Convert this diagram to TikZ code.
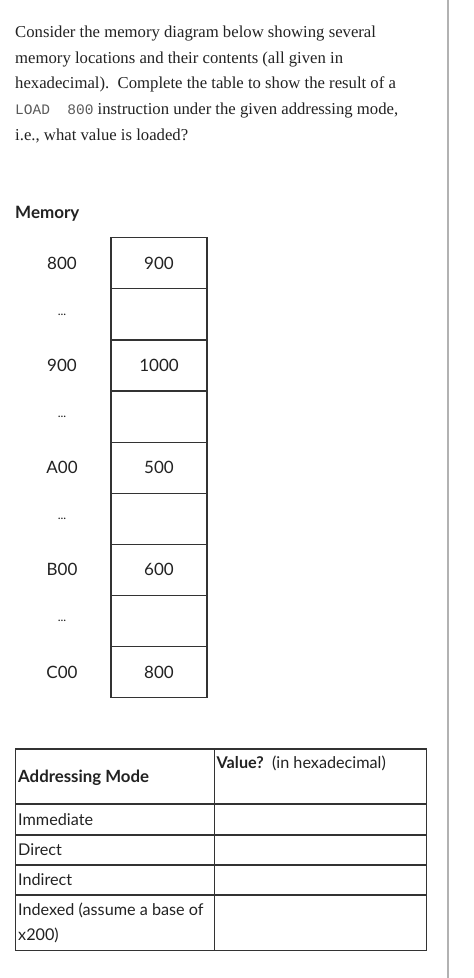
\documentclass[tikz,border=0pt]{standalone}
\usepackage{fontspec}
\setmainfont{Liberation Serif}
\setsansfont{Lato}
\setmonofont{Liberation Mono}
\definecolor{ink}{HTML}{222222}
\definecolor{rule}{HTML}{333333}
\tikzset{
	cell/.style={draw=rule,line width=1.2pt,minimum width=96pt,minimum height=51.1pt,inner sep=0pt,
		font=\sffamily\fontsize{17}{20}\selectfont,text=ink},
	addr/.style={inner sep=0pt,font=\sffamily\fontsize{17}{20}\selectfont,text=ink},
	line/.style={anchor=base west,inner sep=0pt,font=\fontsize{16.7}{20}\selectfont,text=ink},
	entry/.style={anchor=base west,inner sep=0pt,font=\sffamily\fontsize{16.2}{20}\selectfont,text=ink}
}
\begin{document}
\begin{tikzpicture}[x=1pt,y=-1pt]
	\useasboundingbox (0,0) rectangle (474,978);
	\draw[black!30,line width=1.5pt] (448,0)--(448,978);
	% question
	\node[line] (l1) at (15,37.5) {Consider the memory diagram below showing several};
	\node[line] (l2) at (15,63) {memory locations and their contents (all given in};
	\node[line] (l3) at (15,88.5) {hexadecimal).\ \ Complete the table to show the result of a};
	\node[line] (l4) at (15,114.3) {{\ttfamily\fontsize{14.5}{20}\selectfont\color{black!65}LOAD\ \ 800} instruction under the given addressing mode,};
	\node[line] (l5) at (15,140) {i.e., what value is loaded?};
	% memory
	\node[entry,font=\sffamily\bfseries\fontsize{17}{20}\selectfont] (mem) at (15,218.3) {Memory};
	\foreach \i/\a/\v in {0/800/900,1/{\fontsize{12}{12}\selectfont...}/,2/900/1000,3/{\fontsize{12}{12}\selectfont...}/,4/A00/500,5/{\fontsize{12}{12}\selectfont...}/,6/B00/600,7/{\fontsize{12}{12}\selectfont...}/,8/C00/800}{
		\node[cell] (m\i) at (159,263.25+51.1*\i) {\v};
		\node[addr] (a\i) at (62,263.25+51.1*\i) {\a};
	}
	% table
	\path (15.7,749) coordinate (T1) (214.3,749) coordinate (T2) (426.7,749) coordinate (T3)
		(15.7,950.7) coordinate (B1) (214.3,950.7) coordinate (B2) (426.7,950.7) coordinate (B3);
	\draw[rule,line width=1.2pt] (T1) rectangle (B3) (T2)--(B2);
	\foreach \y in {804,835,865,895} \draw[rule,line width=1.2pt] (15.7,\y)--(426.7,\y);
	\node[entry,font=\sffamily\bfseries\fontsize{16.8}{20}\selectfont] (h1) at (18,782.3) {Addressing Mode};
	\node[entry] (h2) at (216.5,768) {\textbf{Value?}\ \ (in hexadecimal)};
	\node[entry] (r1) at (18,825) {Immediate};
	\node[entry] (r2) at (18,855) {Direct};
	\node[entry] (r3) at (18,885) {Indirect};
	\node[entry] (r4) at (18,915.7) {Indexed (assume a base of};
	\node[entry] (r4b) at (18,940.7) {x200)};
\end{tikzpicture}
\end{document}
